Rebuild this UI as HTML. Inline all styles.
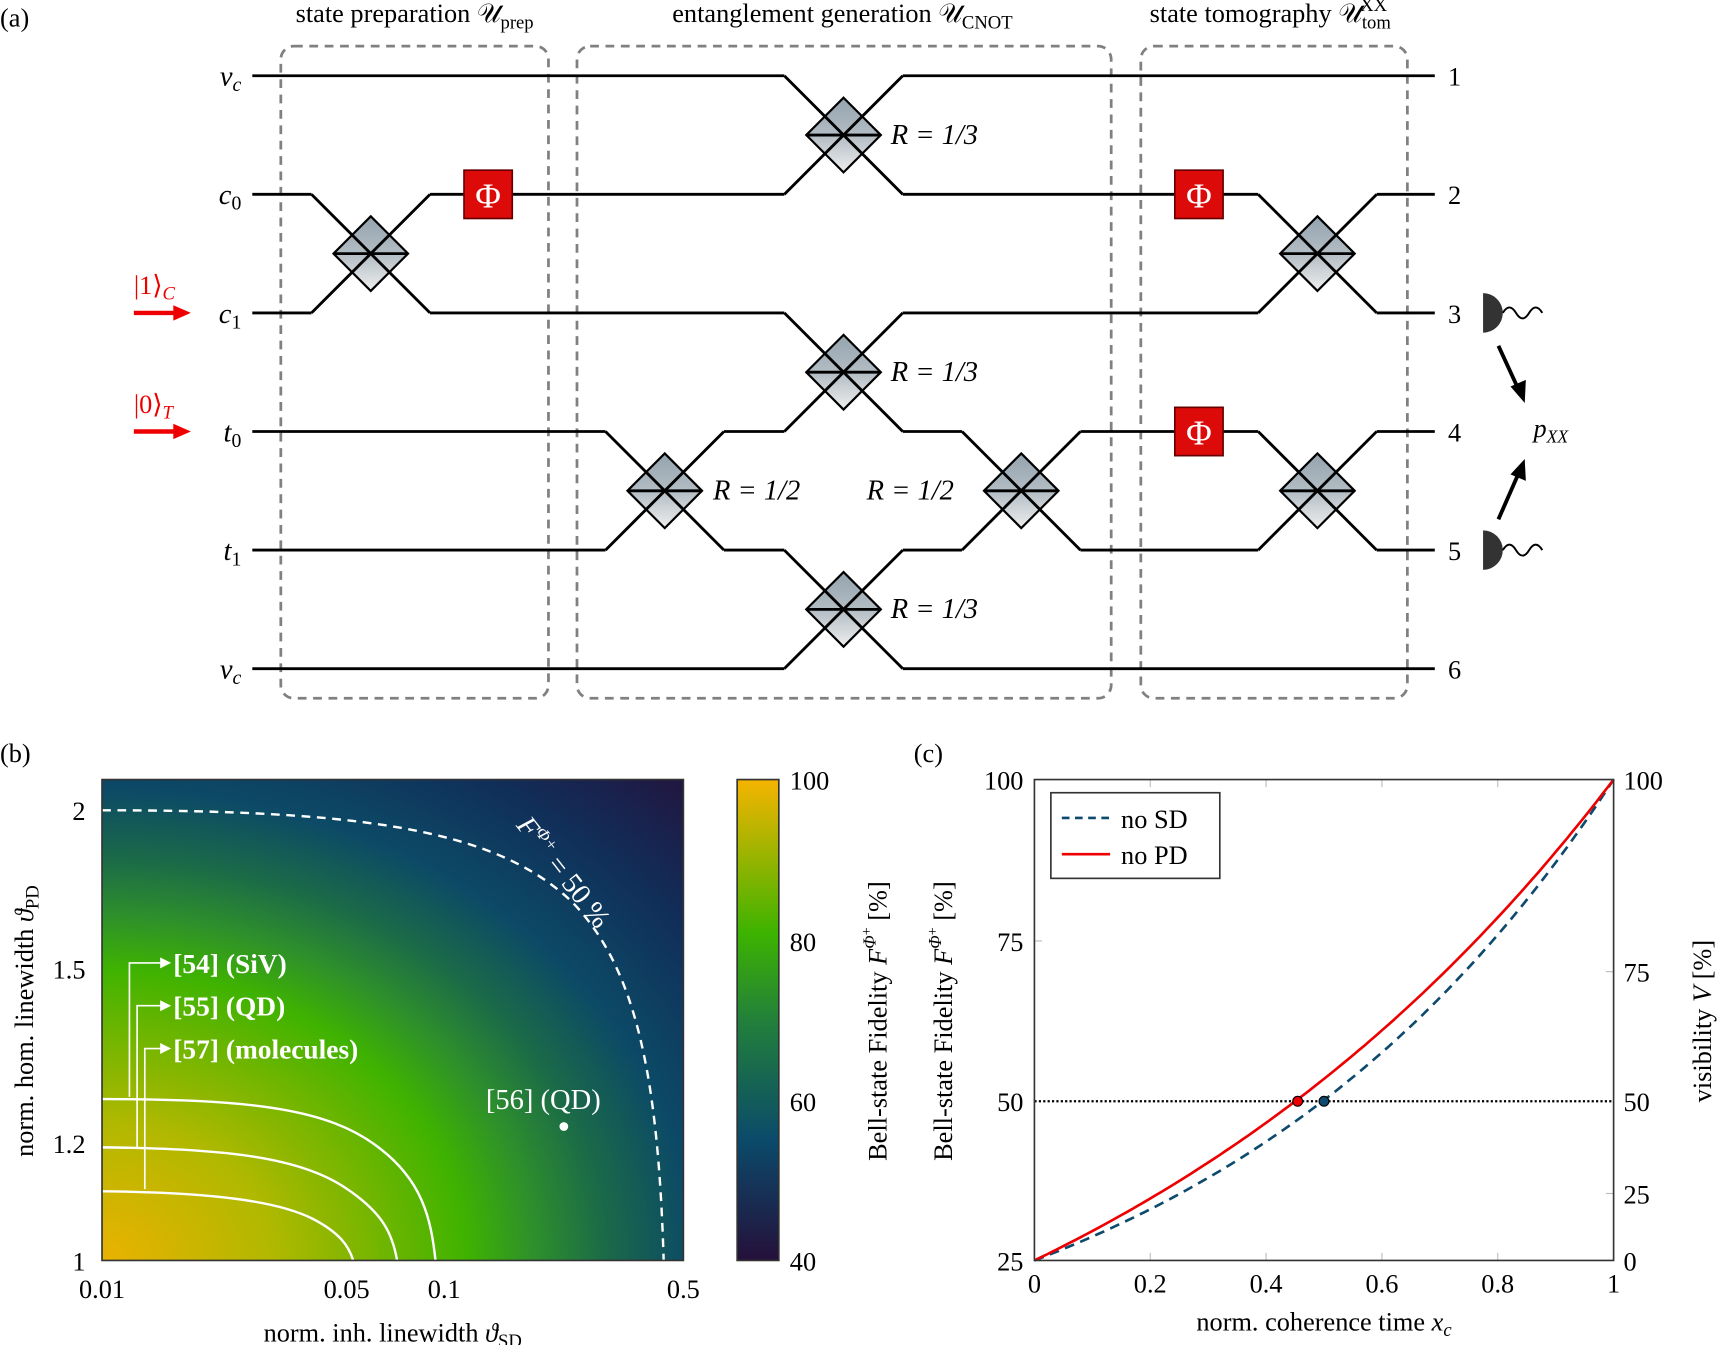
<!DOCTYPE html>
<html><head><meta charset="utf-8">
<style>
html,body{margin:0;padding:0;background:#fff;}
svg{display:block;}
text{font-family:"Liberation Serif",serif;}
</style></head>
<body>
<svg id="s" width="1720" height="1345" viewBox="0 0 1568 1225" preserveAspectRatio="none" xmlns="http://www.w3.org/2000/svg">
<defs>
<linearGradient id="bsg" x1="0" y1="0" x2="0" y2="1">
<stop offset="0" stop-color="#94a3ae"/><stop offset="0.5" stop-color="#b2bcc3"/><stop offset="1" stop-color="#eeeeee"/>
</linearGradient>
<radialGradient id="hm" gradientUnits="userSpaceOnUse" cx="0" cy="0" r="1" gradientTransform="translate(93,1148) scale(790,630)">
<stop offset="0" stop-color="#eab200"/>
<stop offset="0.2" stop-color="#b0b800"/>
<stop offset="0.42" stop-color="#3fb300"/>
<stop offset="0.5" stop-color="#2d8f2c"/>
<stop offset="0.58" stop-color="#1b6a48"/>
<stop offset="0.68" stop-color="#0c4a66"/>
<stop offset="0.82" stop-color="#102f5a"/>
<stop offset="1" stop-color="#25103a"/>
</radialGradient>
<linearGradient id="cb" x1="0" y1="1" x2="0" y2="0">
<stop offset="0" stop-color="#25103a"/>
<stop offset="0.25" stop-color="#0b4a6a"/>
<stop offset="0.5" stop-color="#22803a"/>
<stop offset="0.68" stop-color="#3db300"/>
<stop offset="1" stop-color="#f5b400"/>
</linearGradient>
<clipPath id="pc"><rect x="93" y="710" width="530" height="438"/></clipPath>
</defs>

<!-- Panel a -->
<text x="0" y="24" font-size="24">(a)</text>
<text x="378" y="20" font-size="24" text-anchor="middle">state preparation 𝒰<tspan font-size="17" dy="6">prep</tspan></text>
<text x="768" y="20" font-size="24" text-anchor="middle">entanglement generation 𝒰<tspan font-size="17" dy="6">CNOT</tspan></text>
<text x="1158" y="20" font-size="24" text-anchor="middle">state tomography 𝒰<tspan font-size="17" dy="6">tom</tspan><tspan font-size="17" dy="-16" dx="-28">XX</tspan></text>

<g fill="none" stroke="#808080" stroke-width="2.5" stroke-dasharray="8,6">
<rect x="256" y="42" width="244" height="594" rx="12"/>
<rect x="526" y="42" width="487" height="594" rx="12"/>
<rect x="1040" y="42" width="243" height="594" rx="12"/>
</g>

<g stroke="#000" stroke-width="2.6" fill="none" id="rails"></g>
<g id="bss"></g>

<g>
<rect x="423" y="155" width="44" height="44" fill="#dd0a0a" stroke="#600" stroke-width="1.5"/>
<text x="445" y="189" font-size="32" fill="#fff" text-anchor="middle">Φ</text>
<rect x="1071" y="155" width="44" height="44" fill="#dd0a0a" stroke="#600" stroke-width="1.5"/>
<text x="1093" y="189" font-size="32" fill="#fff" text-anchor="middle">Φ</text>
<rect x="1071" y="371" width="44" height="44" fill="#dd0a0a" stroke="#600" stroke-width="1.5"/>
<text x="1093" y="405" font-size="32" fill="#fff" text-anchor="middle">Φ</text>
</g>

<g font-size="26" font-style="italic">
<text x="812" y="131">R = 1/3</text>
<text x="812" y="347">R = 1/3</text>
<text x="812" y="563">R = 1/3</text>
<text x="650" y="455">R = 1/2</text>
<text x="790" y="455">R = 1/2</text>
</g>
<g font-size="26" font-style="italic" text-anchor="end">
<text x="220" y="78">v<tspan font-size="18" dy="5">c</tspan></text>
<text x="220" y="186">c<tspan font-size="18" dy="5" font-style="normal">0</tspan></text>
<text x="220" y="294">c<tspan font-size="18" dy="5" font-style="normal">1</tspan></text>
<text x="220" y="402">t<tspan font-size="18" dy="5" font-style="normal">0</tspan></text>
<text x="220" y="510">t<tspan font-size="18" dy="5" font-style="normal">1</tspan></text>
<text x="220" y="618">v<tspan font-size="18" dy="5">c</tspan></text>
</g>
<g fill="#e00" stroke="#e00">
<line x1="122" y1="285" x2="160" y2="285" stroke-width="4"/><polygon points="174,285 158,278 158,292" stroke="none"/>
<line x1="122" y1="393" x2="160" y2="393" stroke-width="4"/><polygon points="174,393 158,386 158,400" stroke="none"/>
</g>
<text x="122" y="268" font-size="24" fill="#e00">|1⟩<tspan font-size="17" dy="5" font-style="italic">C</tspan></text>
<text x="122" y="376" font-size="24" fill="#e00">|0⟩<tspan font-size="17" dy="5" font-style="italic">T</tspan></text>
<g font-size="24">
<text x="1320" y="78">1</text><text x="1320" y="186">2</text><text x="1320" y="294">3</text>
<text x="1320" y="402">4</text><text x="1320" y="510">5</text><text x="1320" y="618">6</text>
</g>
<g>
<path d="M1352,267 A18,18 0 0 1 1352,303 Z" fill="#333"/>
<path d="M1370,285 q6,-10 12,0 t12,0 t12,0" fill="none" stroke="#000" stroke-width="1.8"/>
<path d="M1352,483 A18,18 0 0 1 1352,519 Z" fill="#333"/>
<path d="M1370,501 q6,-10 12,0 t12,0 t12,0" fill="none" stroke="#000" stroke-width="1.8"/>
<line x1="1366" y1="315" x2="1384" y2="354" stroke="#000" stroke-width="3.5"/>
<polygon points="1390,367 1377,352 1391,346"/>
<line x1="1366" y1="473" x2="1384" y2="432" stroke="#000" stroke-width="3.5"/>
<polygon points="1390,418 1391,438 1377,432"/>
<text x="1398" y="398" font-size="24" font-style="italic">p<tspan font-size="16" dy="5">XX</tspan></text>
</g>

<!-- Panel b -->
<text x="0" y="694" font-size="24">(b)</text>
<rect x="93" y="710" width="530" height="438" fill="url(#hm)"/>
<g clip-path="url(#pc)" fill="none" stroke="#fff" stroke-width="2.2">
<path d="M93,1001 C230,1001 300,1010 345,1045 C385,1075 393,1110 397,1148"/>
<path d="M93,1045 C210,1046 275,1055 315,1082 C350,1105 358,1125 362,1148"/>
<path d="M93,1085 C200,1086 255,1095 285,1110 C310,1123 318,1135 322,1148"/>
<path d="M93,738 C330,738 450,755 520,820 C580,880 600,980 605,1148" stroke-dasharray="8,6"/>
</g>
<rect x="93" y="710" width="530" height="438" fill="none" stroke="#333" stroke-width="1.5"/>
<g fill="none" stroke="#fff" stroke-width="1.5">
<polyline points="118,999 118,877 148,877"/>
<polyline points="125,1045 125,916 148,916"/>
<polyline points="132,1083 132,955 148,955"/>
</g>
<g fill="#fff"><polygon points="156,877 146,872 146,882"/><polygon points="156,916 146,911 146,921"/><polygon points="156,955 146,950 146,960"/></g>
<g fill="#fff" font-size="25" font-weight="bold">
<text x="158" y="886">[54] (SiV)</text>
<text x="158" y="925">[55] (QD)</text>
<text x="158" y="964">[57] (molecules)</text>
<text x="443" y="1010" font-weight="normal" font-size="26">[56] (QD)</text>
</g>
<circle cx="514" cy="1026" r="4" fill="#fff"/>
<text x="0" y="0" font-size="26" fill="#fff" font-style="italic" transform="translate(470,752) rotate(52)">F<tspan font-size="16" dy="-10">Φ+</tspan><tspan dy="10" font-style="normal"> = 50 %</tspan></text>
<g font-size="24" text-anchor="end">
<text x="78" y="747">2</text><text x="78" y="891">1.5</text><text x="78" y="1050">1.2</text><text x="78" y="1157">1</text>
</g>
<g font-size="24" text-anchor="middle">
<text x="93" y="1182">0.01</text><text x="316" y="1182">0.05</text><text x="405" y="1182">0.1</text><text x="623" y="1182">0.5</text>
</g>
<text x="358" y="1222" font-size="24" text-anchor="middle">norm. inh. linewidth <tspan font-style="italic">ϑ</tspan><tspan font-size="17" dy="5">SD</tspan></text>
<text transform="translate(30,930) rotate(-90)" font-size="24" text-anchor="middle">norm. hom. linewidth <tspan font-style="italic">ϑ</tspan><tspan font-size="17" dy="5">PD</tspan></text>

<rect x="672" y="710" width="38" height="438" fill="url(#cb)" stroke="#333" stroke-width="1.5"/>
<g font-size="24">
<text x="720" y="719">100</text><text x="720" y="866">80</text><text x="720" y="1012">60</text><text x="720" y="1157">40</text>
</g>
<text transform="translate(808,930) rotate(-90)" font-size="24" text-anchor="middle">Bell-state Fidelity <tspan font-style="italic">F</tspan><tspan font-size="16" dy="-10" font-style="italic">Φ</tspan><tspan font-size="13" dy="-4">+</tspan><tspan dy="14"> [%]</tspan></text>

<!-- Panel c -->
<text x="833" y="694" font-size="24">(c)</text>
<text transform="translate(868,930) rotate(-90)" font-size="24" text-anchor="middle">Bell-state Fidelity <tspan font-style="italic">F</tspan><tspan font-size="16" dy="-10" font-style="italic">Φ</tspan><tspan font-size="13" dy="-4">+</tspan><tspan dy="14"> [%]</tspan></text>
<text transform="translate(1560,930) rotate(-90)" font-size="24" text-anchor="middle">visibility <tspan font-style="italic">V</tspan> [%]</text>
<g stroke="#bbb" stroke-width="1">
<line x1="1048.6" y1="1148" x2="1048.6" y2="1141"/><line x1="1154.2" y1="1148" x2="1154.2" y2="1141"/><line x1="1259.8" y1="1148" x2="1259.8" y2="1141"/><line x1="1365.4" y1="1148" x2="1365.4" y2="1141"/>
<line x1="1048.6" y1="710" x2="1048.6" y2="717"/><line x1="1154.2" y1="710" x2="1154.2" y2="717"/><line x1="1259.8" y1="710" x2="1259.8" y2="717"/><line x1="1365.4" y1="710" x2="1365.4" y2="717"/>
<line x1="943" y1="857" x2="950" y2="857"/><line x1="1471" y1="885" x2="1464" y2="885"/><line x1="1471" y1="1087" x2="1464" y2="1087"/>
</g>
<line x1="943" y1="1003" x2="1471" y2="1003" stroke="#000" stroke-width="2" stroke-dasharray="2,2"/>
<path id="blue" fill="none" stroke="#0d4a6e" stroke-width="2.4" stroke-dasharray="9,6"/>
<path id="red" fill="none" stroke="#e00" stroke-width="2.4"/>
<circle cx="1183" cy="1003" r="4.5" fill="#e00" stroke="#000" stroke-width="1"/>
<circle cx="1207" cy="1003" r="4.5" fill="#0d4a6e" stroke="#000" stroke-width="1"/>
<rect x="943" y="710" width="528" height="438" fill="none" stroke="#333" stroke-width="1.5"/>
<rect x="958" y="722" width="154" height="78" fill="#fff" stroke="#333" stroke-width="1.5"/>
<line x1="968" y1="745" x2="1012" y2="745" stroke="#0d4a6e" stroke-width="2.4" stroke-dasharray="7,5"/>
<line x1="968" y1="778" x2="1012" y2="778" stroke="#e00" stroke-width="2.4"/>
<text x="1022" y="754" font-size="24">no SD</text>
<text x="1022" y="787" font-size="24">no PD</text>
<g font-size="24" text-anchor="end">
<text x="933" y="719">100</text><text x="933" y="866">75</text><text x="933" y="1012">50</text><text x="933" y="1157">25</text>
</g>
<g font-size="24">
<text x="1480" y="719">100</text><text x="1480" y="894">75</text><text x="1480" y="1012">50</text><text x="1480" y="1096">25</text><text x="1480" y="1157">0</text>
</g>
<g font-size="24" text-anchor="middle">
<text x="943" y="1177">0</text><text x="1048.6" y="1177">0.2</text><text x="1154.2" y="1177">0.4</text><text x="1259.8" y="1177">0.6</text><text x="1365.4" y="1177">0.8</text><text x="1471" y="1177">1</text>
</g>
<text x="1207" y="1212" font-size="24" text-anchor="middle">norm. coherence time <tspan font-style="italic">x</tspan><tspan font-size="17" dy="5" font-style="italic">c</tspan></text>
</svg>
<script>
(function(){
var NS="http://www.w3.org/2000/svg";
var rails=document.getElementById('rails'), bss=document.getElementById('bss');
function ln(p,x1,y1,x2,y2){var l=document.createElementNS(NS,'line');l.setAttribute('x1',x1);l.setAttribute('y1',y1);l.setAttribute('x2',x2);l.setAttribute('y2',y2);p.appendChild(l);}
var segs={69:[[230,715],[823,1308]],177:[[230,284],[392,715],[823,1147],[1255,1308]],285:[[230,284],[392,715],[823,1147],[1255,1308]],
393:[[230,552],[660,715],[823,877],[985,1147],[1255,1308]],501:[[230,552],[660,715],[823,877],[985,1147],[1255,1308]],609:[[230,715],[823,1308]]};
for(var y in segs)segs[y].forEach(function(s){ln(rails,s[0],y,s[1],y);});
var B=[[338,231],[769,123],[769,339],[606,447],[931,447],[769,555],[1201,231],[1201,447]];
B.forEach(function(b){
 var cx=b[0],cy=b[1],d=34;
 var p=document.createElementNS(NS,'polygon');
 p.setAttribute('points',[cx,cy-d,cx+d,cy,cx,cy+d,cx-d,cy].join(','));
 p.setAttribute('fill','url(#bsg)');p.setAttribute('stroke','#000');p.setAttribute('stroke-width','2');bss.appendChild(p);
 var g=document.createElementNS(NS,'g');g.setAttribute('stroke','#000');g.setAttribute('stroke-width','2.6');
 ln(g,cx-54,cy-54,cx+54,cy+54);ln(g,cx-54,cy+54,cx+54,cy-54);ln(g,cx-d,cy,cx+d,cy);bss.appendChild(g);
});
function curve(k){var s='';for(var i=0;i<=100;i++){var x=i/100;var g=(Math.exp(k*x)-1)/(Math.exp(k)-1);
 s+=(i?'L':'M')+(943+x*528).toFixed(1)+','+(1148-g*438).toFixed(1);}return s;}
document.getElementById('red').setAttribute('d',curve(1.0));
document.getElementById('blue').setAttribute('d',curve(1.386));
})();
</script>
</body></html>
